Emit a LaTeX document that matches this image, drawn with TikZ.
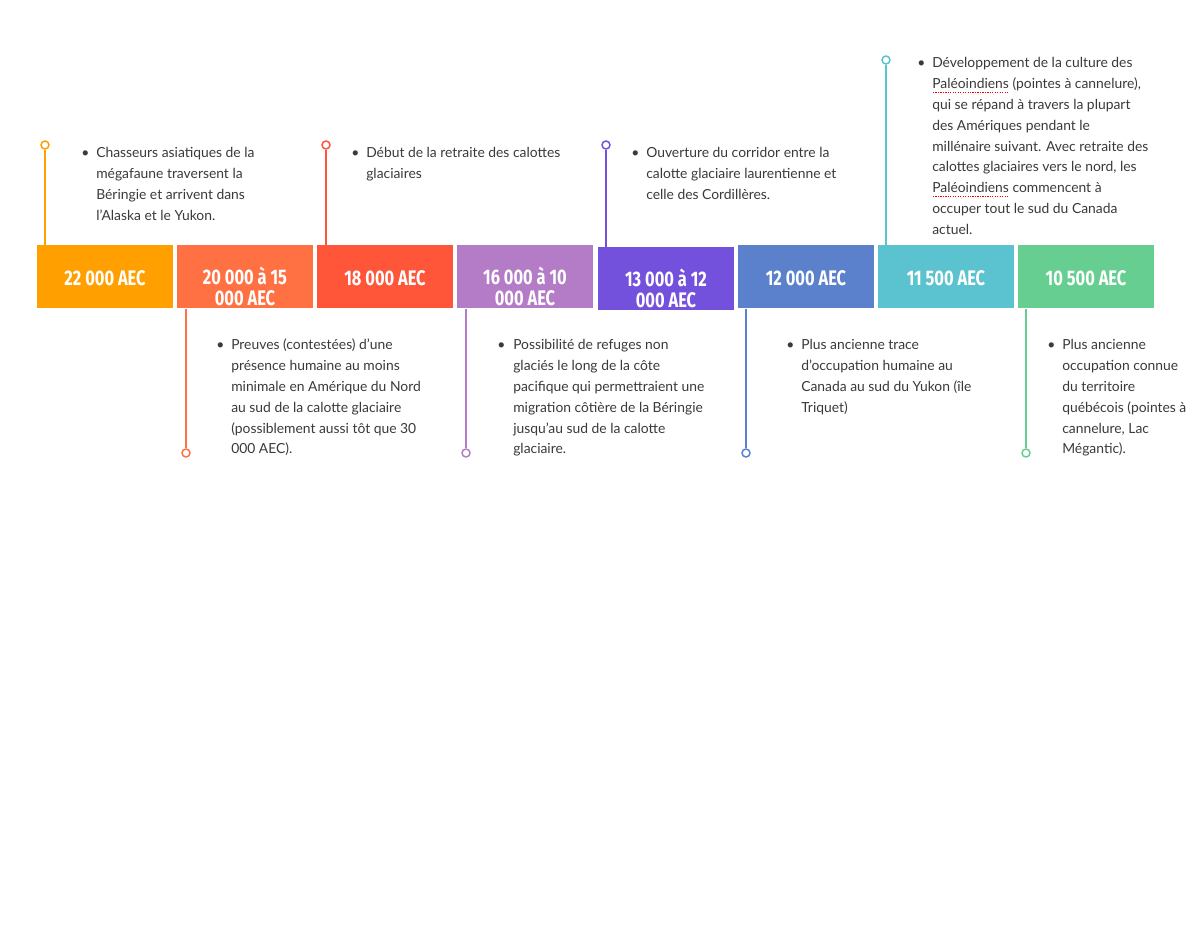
\documentclass[tikz,border=0pt]{standalone}
\usepackage{fontspec}
\setmainfont{Lato}
\newfontfamily\condfont[FakeStretch=0.78]{Fira Sans}
\definecolor{txt}{HTML}{3A3A3A}
\definecolor{cA}{HTML}{FFA000}
\definecolor{cB}{HTML}{FF7043}
\definecolor{cC}{HTML}{FF5539}
\definecolor{cD}{HTML}{B47CC7}
\definecolor{cE}{HTML}{7351DC}
\definecolor{cF}{HTML}{5B80CC}
\definecolor{cG}{HTML}{5BC3CF}
\definecolor{cH}{HTML}{66CE91}
\newcommand\tightlines{\lineskiplimit=-100pt\relax\lineskip=0pt\relax}
\newcommand\lblfont{\condfont\bfseries\fontsize{15.8}{15.4}\selectfont\tightlines}
\newcommand\spellmark[1]{\setbox0\hbox{#1}\rlap{\color{red}\raisebox{-3pt}{\hbox to \wd0{\xleaders\hbox to 1.8pt{\hss\rule{0.9pt}{0.6pt}\hss}\hfil}}}#1}
\begin{document}
\begin{tikzpicture}[x=0.75pt,y=-0.75pt,
  datebox/.style={fill=#1, draw=none, minimum width=102pt, minimum height=47.25pt, inner sep=0, anchor=north west},
  lbl/.style={text=white, font=\lblfont, align=center, anchor=north, inner sep=0},
  stem/.style={draw=#1, line width=1.4pt},
  dot/.style={circle, draw=#1, fill=white, line width=1.1pt, minimum size=6pt, inner sep=0},
  desc/.style={anchor=north west, align=left, inner sep=0, text=txt, font=\fontsize{10.4}{15.6}\selectfont},
  bul/.style={anchor=north west, inner sep=0, text=txt, font=\fontsize{10.4}{15.6}\selectfont}]
\useasboundingbox[fill=white] (0,0) rectangle (1200,927);

% date boxes
\node[datebox=cA] (b1) at (37,245) {};
\node[datebox=cB] (b2) at (177,245) {};
\node[datebox=cC] (b3) at (317,245) {};
\node[datebox=cD] (b4) at (457,245) {};
\node[datebox=cE] (b5) at (598,247) {};
\node[datebox=cF] (b6) at (738,245) {};
\node[datebox=cG] (b7) at (878,245) {};
\node[datebox=cH] (b8) at (1018,245) {};

% labels
\node[lbl] (l1) at (105,270) {\strut 22 000 AEC};
\node[lbl] (l2) at (245,267) {\strut 20 000 à 15\\000 AEC};
\node[lbl] (l3) at (385,270) {\strut 18 000 AEC};
\node[lbl] (l4) at (525,267) {\strut 16 000 à 10\\000 AEC};
\node[lbl] (l5) at (666,269) {\strut 13 000 à 12\\000 AEC};
\node[lbl] (l6) at (806,270) {\strut 12 000 AEC};
\node[lbl] (l7) at (946,270) {\strut 11 500 AEC};
\node[lbl] (l8) at (1086,270) {\strut 10 500 AEC};

% top markers
\node[dot=cA] (c1) at (45,145) {};
\node[dot=cC] (c3) at (326,145) {};
\node[dot=cE] (c5) at (606,145) {};
\node[dot=cG] (c7) at (886,60) {};
\draw[stem=cA] (c1.south) -- (c1 |- b1.north);
\draw[stem=cC] (c3.south) -- (c3 |- b3.north);
\draw[stem=cE] (c5.south) -- (c5 |- b5.north);
\draw[stem=cG] (c7.south) -- (c7 |- b7.north);

% bottom markers
\node[dot=cB] (c2) at (186,453) {};
\node[dot=cD] (c4) at (466,453) {};
\node[dot=cF] (c6) at (746,453) {};
\node[dot=cH] (c8) at (1026,453) {};
\draw[stem=cB] (c2 |- b2.south) -- (c2.north);
\draw[stem=cD] (c4 |- b4.south) -- (c4.north);
\draw[stem=cF] (c6 |- b6.south) -- (c6.north);
\draw[stem=cH] (c8 |- b8.south) -- (c8.north);

% descriptions
\node[bul] (p1) at (81,143) {\strut\textbullet};
\node[desc] (d1) at (96,143) {\strut Chasseurs asiatiques de la\\mégafaune traversent la\\Béringie et arrivent dans\\l'Alaska et le Yukon.};

\node[bul] (p3) at (351,143) {\strut\textbullet};
\node[desc] (d3) at (366,143) {\strut Début de la retraite des calottes\\glaciaires};

\node[bul] (p5) at (631,143) {\strut\textbullet};
\node[desc] (d5) at (646,143) {\strut Ouverture du corridor entre la\\calotte glaciaire laurentienne et\\celle des Cordillères.};

\node[bul] (p7) at (917,53) {\strut\textbullet};
\node[desc] (d7) at (932,53) {\strut Développement de la culture des\\\spellmark{Paléoindiens} (pointes à cannelure),\\qui se répand à travers la plupart\\des Amériques pendant le\\millénaire suivant. Avec retraite des\\calottes glaciaires vers le nord, les\\\spellmark{Paléoindiens} commencent à\\occuper tout le sud du Canada\\actuel.};

\node[bul] (p2) at (216,335) {\strut\textbullet};
\node[desc] (d2) at (231,335) {\strut Preuves (contestées) d'une\\présence humaine au moins\\minimale en Amérique du Nord\\au sud de la calotte glaciaire\\(possiblement aussi tôt que 30\\000 AEC).};

\node[bul] (p4) at (497,335) {\strut\textbullet};
\node[desc] (d4) at (513,335) {\strut Possibilité de refuges non\\glaciés le long de la côte\\pacifique qui permettraient une\\migration côtière de la Béringie\\jusqu'au sud de la calotte\\glaciaire.};

\node[bul] (p6) at (786,335) {\strut\textbullet};
\node[desc] (d6) at (801,335) {\strut Plus ancienne trace\\d'occupation humaine au\\Canada au sud du Yukon (île\\Triquet)};

\node[bul] (p8) at (1047,335) {\strut\textbullet};
\node[desc] (d8) at (1062,335) {\strut Plus ancienne\\occupation connue\\du territoire\\québécois (pointes à\\cannelure, Lac\\Mégantic).};
\end{tikzpicture}
\end{document}
